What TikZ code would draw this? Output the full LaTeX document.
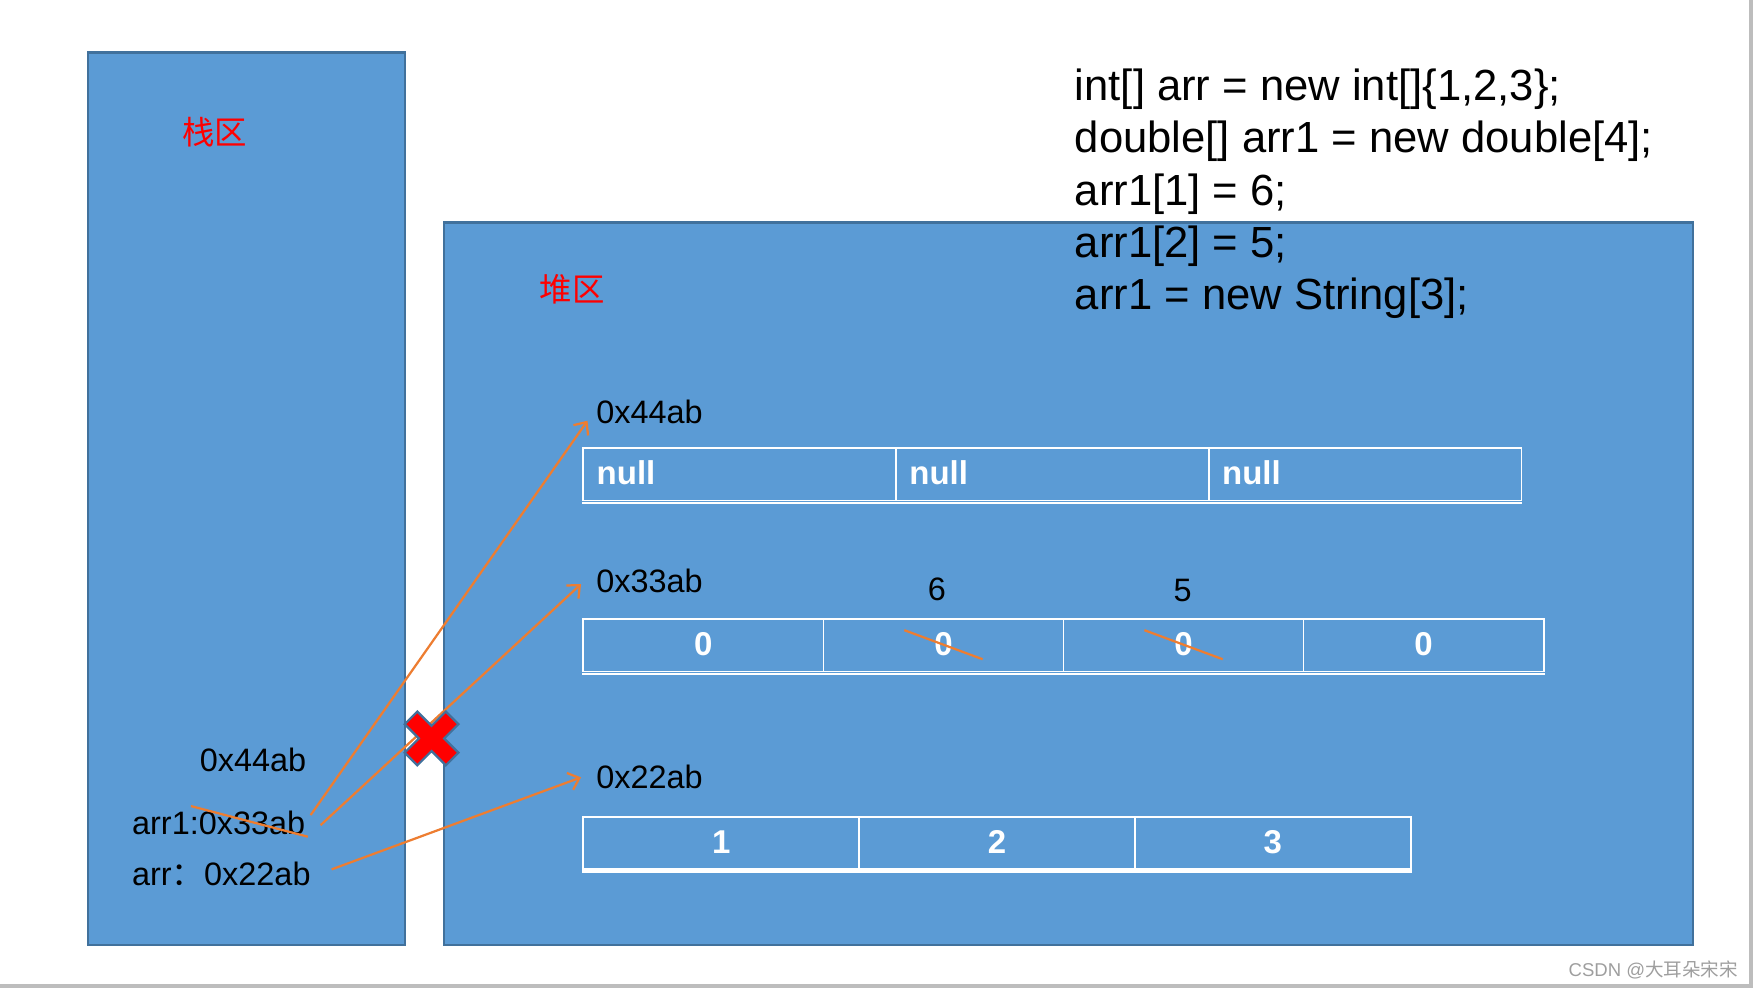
\documentclass[tikz,border=0pt]{standalone}
\usepackage{fontspec}
\setmainfont{Liberation Sans}
\newfontfamily\cjk{Noto Sans CJK SC}
\usetikzlibrary{arrows.meta}

\definecolor{boxblue}{HTML}{5B9BD5}
\definecolor{boxedge}{HTML}{41719C}
\definecolor{ptrorange}{HTML}{ED7D31}

\begin{document}
\begin{tikzpicture}[x=0.5pt,y=-0.5pt,
	area/.style={fill=boxblue,draw=boxedge,line width=1pt},
	zone/.style={text=red,inner sep=0,font=\cjk\fontsize{14.5}{17}\selectfont},
	code/.style={anchor=base west,inner sep=0,font=\fontsize{19.5}{23}\selectfont},
	addr/.style={anchor=base west,inner sep=0,font=\fontsize{14.5}{17}\selectfont},
	cell/.style={draw=white,line width=0.75pt,anchor=north west,minimum height=23.4pt,inner sep=0,
		text=white,font=\bfseries\fontsize{14.75}{17}\selectfont,text height=9.4pt,text depth=0pt},
	ptr/.style={ptrorange,line width=1pt,-{Straight Barb[length=4.5pt,width=8pt]}},
	strike/.style={ptrorange,line width=1pt}]
	\def\nw{279.7}	%width of a null cell
	\def\zw{214.75}	%width of a double cell
	\def\vw{246.7}	%width of an int cell
	\def\arm{26}	%half length of the cross
	\def\hw{8}		%half width of the cross
	\useasboundingbox (0,0) rectangle (1568,884);
	\draw[black!26,line width=2pt] (1566,0) -- (1566,882) -- (0,882);	%page edge

	\draw[area] (79,47) rectangle (362,845);		%stack
	\draw[area] (397,199) rectangle (1514,845);		%heap
	\node[zone] (stack) at (192,118.5) {栈区};
	\node[zone] (heap) at (512,258.7) {堆区};

	\foreach \txt [count=\i] in {{int[] arr = new int[]\{1,2,3\};},{double[] arr1 = new double[4];},{arr1[1] = 6;},{arr1[2] = 5;},{arr1 = new String[3];}}
		\node[code] (c\i) at (961,{90+(\i-1)*46.8}) {\txt};

	%arrays in the heap
	\foreach \i in {1,2,3}
		\node[cell,inner xsep=6pt,text width=127.85pt,align=left] (n\i) at ({521+(\i-1)*\nw},400) {null};
	\foreach \i in {1,...,4}
		\node[cell,minimum width=\zw*0.5pt] (z\i) at ({521+(\i-1)*\zw},553) {0};
	\foreach \v [count=\i] in {1,2,3}
		\node[cell,minimum width=\vw*0.5pt] (v\i) at ({521+(\i-1)*\vw},730) {\v};
	\draw[white,line width=1.3pt] ([yshift=-0.8pt]n1.south west) -- ([yshift=-0.8pt]n3.south east);
	\draw[white,line width=1.3pt] ([yshift=-0.8pt]z1.south west) -- ([yshift=-0.8pt]z4.south east);
	\draw[white,line width=1.3pt] ([yshift=-0.8pt]v1.south west) -- ([yshift=-0.8pt]v3.south east);

	\node[addr] (lab44) at (533,378.7) {0x44ab};
	\node[addr] (lab33) at (533,530) {0x33ab};
	\node[addr] (lab22) at (533,705.7) {0x22ab};
	\node[addr,anchor=base] (new6) at (838,537.3) {6};
	\node[addr,anchor=base] (new5) at (1057.8,537.6) {5};

	%variables in the stack
	\node[addr] (st44) at (178.3,690) {0x44ab};
	\node[addr] (st33) at (117.8,746) {arr1:0x33ab};
	\node[addr] (st22) at (117.8,791.6) {arr{\cjk ：}0x22ab};

	\draw[ptr] ([xshift=2.25pt,yshift=3.3pt]st33.east) -- ([xshift=-3.75pt,yshift=1.2pt]lab44.base west);
	\draw[ptr] ([xshift=6.7pt,yshift=-1.2pt]st33.east) -- ([xshift=-6.65pt,yshift=3.8pt]lab33.base west);
	\draw[ptr] ([xshift=9.25pt,yshift=7pt]st22.base east) -- ([xshift=-6.65pt,yshift=5.2pt]lab22.base west);

	\draw[strike] ([xshift=26.5pt,yshift=12.5pt]st33.base west) -- ([xshift=1pt,yshift=-1.2pt]st33.base east);
	\foreach \k in {2,3}
		\draw[strike] ([xshift=-17.5pt,yshift=6.75pt]z\k.center) -- ([xshift=17.5pt,yshift=-6.25pt]z\k.center);

	\begin{scope}[shift={(386,660.5)},rotate=45]	%cross over the old pointer
		\draw[fill=red,draw=boxedge,line width=1pt] (\arm,\hw) -- (\hw,\hw) -- (\hw,\arm) -- (-\hw,\arm) -- (-\hw,\hw) -- (-\arm,\hw)
			-- (-\arm,-\hw) -- (-\hw,-\hw) -- (-\hw,-\arm) -- (\hw,-\arm) -- (\hw,-\hw) -- (\arm,-\hw) -- cycle;
	\end{scope}

	\node[anchor=east,inner sep=0,text=black!38,font=\fontsize{8.3}{10}\selectfont] (mark) at (1555,868) {CSDN @{\cjk 大耳朵宋宋}};
\end{tikzpicture}
\end{document}
